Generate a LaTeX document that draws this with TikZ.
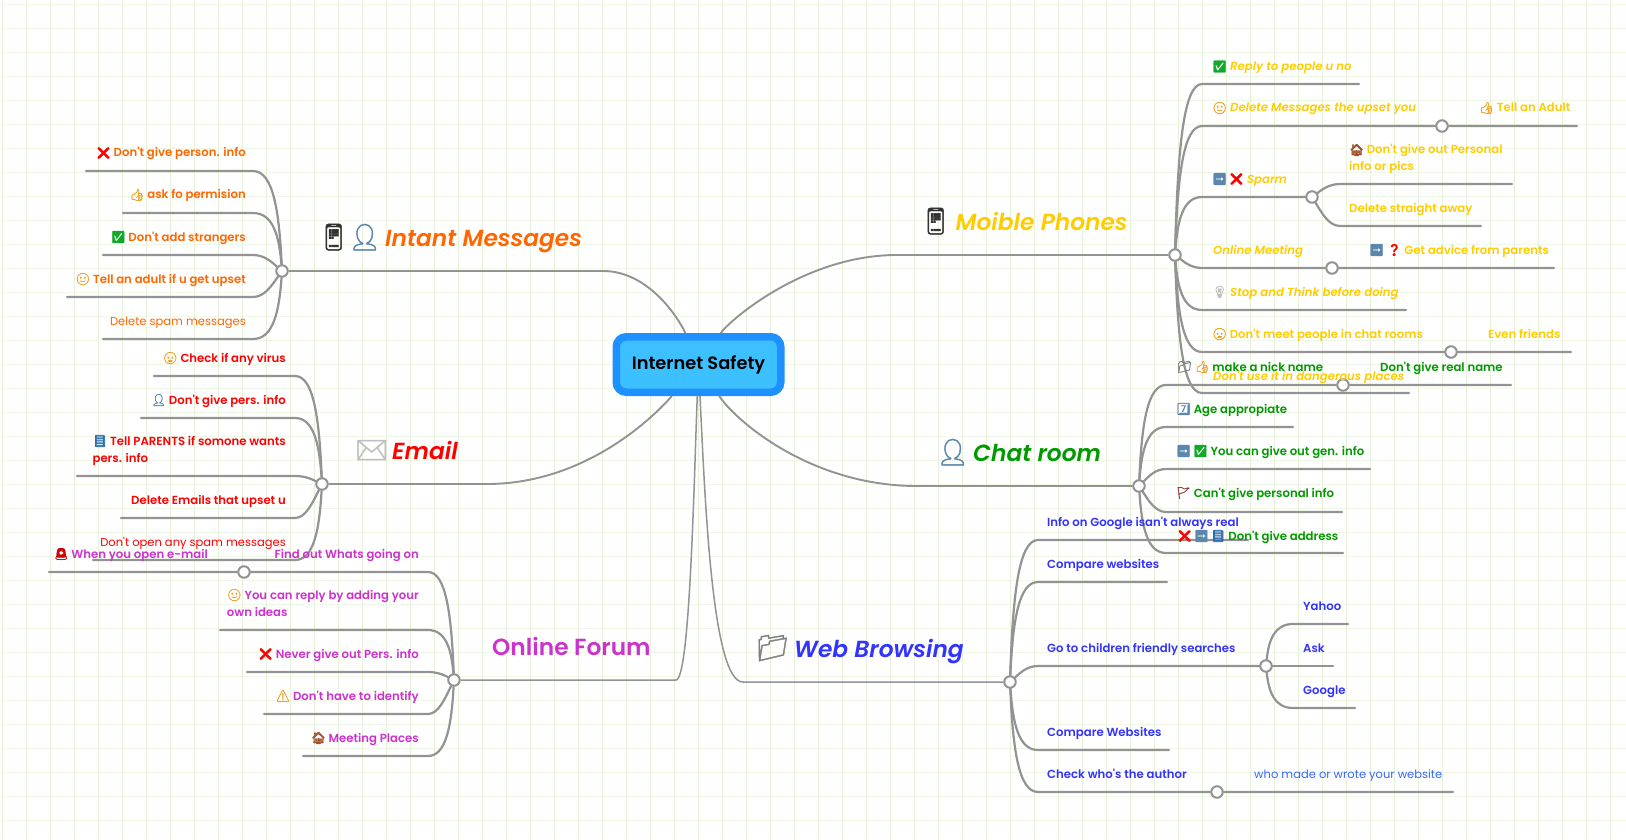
\documentclass[tikz,border=0pt]{standalone}
\usepackage{fontspec}
\usepackage{tikz}
\usetikzlibrary{calc, backgrounds}
\newfontfamily\mapfont{Poppins}[BoldFont={Poppins SemiBold},BoldItalicFont={Poppins SemiBold Italic}]
\newfontfamily\emofont{Noto Emoji}[FakeBold=1.6]
\definecolor{mobcol}{HTML}{FFCC00}
\definecolor{imcol}{HTML}{FF6600}
\definecolor{mailcol}{HTML}{FF0000}
\definecolor{chatcol}{HTML}{009900}
\definecolor{webcol}{HTML}{3333FF}
\definecolor{forumcol}{HTML}{CC33CC}
\definecolor{whocol}{HTML}{3366FF}
\definecolor{linecol}{HTML}{939393}
\definecolor{steel}{HTML}{5B86AE}
\definecolor{okgreen}{HTML}{12A82A}
\definecolor{facecol}{HTML}{F0A020}
\definecolor{bookcol}{HTML}{2A6CB0}
\definecolor{homecol}{HTML}{A0522D}
\definecolor{flagcol}{HTML}{8B3A3A}
\definecolor{boxcol}{HTML}{1E90FF}
\definecolor{boxfill}{HTML}{3CC0FF}
\definecolor{gridh}{HTML}{EFF7E6}
\definecolor{gridv}{HTML}{E6F0DA}
\newcommand{\ico}[2]{{\emofont\textcolor{#1}{#2}}}
\newcommand{\bigico}[2]{{\emofont\fontsize{26}{26}\selectfont\textcolor{#1}{#2}}}
\newcommand{\icx}{\ico{red}{❌}}
\newcommand{\icok}{\ico{okgreen}{✅}}
\newcommand{\icup}{\ico{facecol}{👍}}
\newcommand{\icsm}{\ico{facecol}{🙂}}
\newcommand{\icsad}{\ico{facecol}{😦}}
\newcommand{\icgo}{\ico{steel}{➡}}
\newcommand{\ichome}{\ico{homecol}{🏠}}
\newcommand{\icbook}{\ico{bookcol}{📘}}
\newcommand{\icman}{\ico{steel}{👤}}
\newcommand{\icdir}{\ico{gray}{📁}}

\begin{document}
\begin{tikzpicture}[
      x=1pt,
      y=-1pt,
      every node/.style={inner sep=0pt},
      leaf/.style={font=\mapfont\fontsize{11.7}{17}\selectfont\bfseries, align=left},
      leafit/.style={font=\mapfont\fontsize{11.7}{17}\selectfont\bfseries\itshape},
      plain/.style={font=\mapfont\fontsize{11.5}{17}\selectfont},
      topic/.style={anchor=base west, font=\mapfont\fontsize{23.3}{26}\selectfont\bfseries\itshape},
      knob/.style={circle, draw=linecol, fill=white, line width=2pt, minimum size=11.5pt},
      link/.style={draw=linecol, line width=2.2pt, line cap=round},
      trunk/.style={draw=linecol, line width=1.9pt},
      bendlink/.style={to path={let \p1=(\tikztostart), \p2=(\tikztotarget) in
         .. controls ({\x1+.1*(\x2-\x1)},{\y1+.6*(\y2-\y1)}) and ({\x1+.3*(\x2-\x1)},\y2) .. (\p2)}},
      bendnear/.style={to path={let \p1=(\tikztostart), \p2=(\tikztotarget) in
         .. controls ({\x1+.35*(\x2-\x1)},{\y1+.55*(\y2-\y1)}) and ({\x1+.6*(\x2-\x1)},\y2) .. (\p2)}}
   ]

      \useasboundingbox (0,0) rectangle (1626,840);

      \node[draw=boxcol, rounded corners=10pt, line width=7.5pt, fill=boxfill,
         minimum width=164.5pt, minimum height=55.5pt,
         font=\mapfont\fontsize{17.8}{20}\selectfont\bfseries] (safety) at (698.5,364.5) {Internet Safety};

      \node[knob] (hubmob) at (1175,255) {};
      \node[knob] (hubim) at (282,271) {};
      \node[knob] (hubmail) at (322,484) {};
      \node[knob] (hubchat) at (1139,486) {};
      \node[knob] (hubweb) at (1010,682) {};
      \node[knob] (hubforum) at (454,680) {};
      \node[knob] (knobadult) at (1442,126) {};
      \node[knob] (knobsparm) at (1312,197) {};
      \node[knob] (knobmeet) at (1332,268) {};
      \node[knob] (knobfriends) at (1451,352) {};
      \node[knob] (knobnick) at (1343,385) {};
      \node[knob] (knobsearch) at (1266,666) {};
      \node[knob] (knobauthor) at (1217,792) {};
      \node[knob] (knobopen) at (244,572) {};

      \node[topic, text=mobcol] (tmob) at (919,230) {\bigico{black!80}{📱}\hspace{3.4pt}Moible Phones};
      \node[topic, text=imcol] (tim) at (317,246) {\bigico{black!80}{📱}\hspace{-2pt}\bigico{steel}{👤}\hspace{4pt}Intant Messages};
      \node[topic, text=mailcol] (tmail) at (355,459) {\bigico{black!25}{✉}\hspace{4pt}Email};
      \node[topic, text=chatcol] (tchat) at (936,461) {\bigico{steel}{👤}\hspace{4pt}Chat room};
      \node[topic, text=webcol] (tweb) at (756,657) {\bigico{gray}{📁}\hspace{5pt}Web Browsing};
      \node[topic, text=forumcol, font=\mapfont\fontsize{23.3}{26}\selectfont\bfseries] (tforum) at (492,655) {Online Forum};

      \coordinate (mob1) at (1202,84);
      \coordinate (mob1e) at (1359,84);
      \coordinate (mob2) at (1202,126);
      \coordinate (mob2e) at (1577,126);
      \coordinate (mob3) at (1202,197);
      \coordinate (spam1) at (1340,184);
      \coordinate (spam1e) at (1512,184);
      \coordinate (spam2) at (1340,226);
      \coordinate (spam2e) at (1481,226);
      \coordinate (mob4) at (1202,268);
      \coordinate (mob4e) at (1554,268);
      \coordinate (mob5) at (1202,310);
      \coordinate (mob5e) at (1406,310);
      \coordinate (mob6) at (1202,352);
      \coordinate (mob6e) at (1571,352);
      \coordinate (mob7) at (1202,393);
      \coordinate (mob7e) at (1409,393);

      \coordinate (chat1) at (1166,385);
      \coordinate (chat1e) at (1511,385);
      \coordinate (chat2) at (1166,427);
      \coordinate (chat2e) at (1293,427);
      \coordinate (chat3) at (1166,469);
      \coordinate (chat3e) at (1370,469);
      \coordinate (chat4) at (1166,512);
      \coordinate (chat4e) at (1342,512);
      \coordinate (chat5) at (1166,553);
      \coordinate (chat5e) at (1343,553);

      \coordinate (web1) at (1038,540);
      \coordinate (web1e) at (1248,540);
      \coordinate (web2) at (1038,582);
      \coordinate (web2e) at (1167,582);
      \coordinate (web3) at (1038,666);
      \coordinate (web4) at (1038,750);
      \coordinate (web4e) at (1169,750);
      \coordinate (web5) at (1038,792);
      \coordinate (web5e) at (1453,792);
      \coordinate (find1) at (1293,624);
      \coordinate (find1e) at (1348,624);
      \coordinate (find2) at (1293,666);
      \coordinate (find2e) at (1333,666);
      \coordinate (find3) at (1293,708);
      \coordinate (find3e) at (1355,708);

      \coordinate (im1) at (253,171);
      \coordinate (im1e) at (86,171);
      \coordinate (im2) at (253,213);
      \coordinate (im2e) at (123,213);
      \coordinate (im3) at (253,255);
      \coordinate (im3e) at (103,255);
      \coordinate (im4) at (253,297);
      \coordinate (im4e) at (67,297);
      \coordinate (im5) at (253,339);
      \coordinate (im5e) at (103,339);

      \coordinate (mail1) at (295,376);
      \coordinate (mail1e) at (154,376);
      \coordinate (mail2) at (295,418);
      \coordinate (mail2e) at (141,418);
      \coordinate (mail3) at (295,476);
      \coordinate (mail3e) at (77,476);
      \coordinate (mail4) at (295,518);
      \coordinate (mail4e) at (121,518);
      \coordinate (mail5) at (295,560);
      \coordinate (mail5e) at (93,560);

      \coordinate (forum1) at (428,572);
      \coordinate (forum1e) at (49,572);
      \coordinate (forum2) at (428,630);
      \coordinate (forum2e) at (220,630);
      \coordinate (forum3) at (428,672);
      \coordinate (forum3e) at (247,672);
      \coordinate (forum4) at (428,714);
      \coordinate (forum4e) at (264,714);
      \coordinate (forum5) at (428,756);
      \coordinate (forum5e) at (303,756);

      \begin{scope}[on background layer]
         \fill[white] (0,0) rectangle (1626,840);
         \draw[line width=1.2pt, draw=gridh, y=1pt, xstep=5000, ystep=24, shift={(0,-4.5)}] (1,-835.5) grid (1626,4.5);
         \draw[line width=1.2pt, draw=gridv, xstep=24, ystep=5000, shift={(2.5,0)}] (-2.5,1) grid (1623.5,840);

         \draw[trunk] (hubim) -- (603,271) .. controls (652,271) and (682,325) .. (safety);
         \draw[trunk] (hubmail) -- (487,484) .. controls (590,484) and (660,410) .. (safety);
         \draw[trunk] (hubmob) -- (897,255) .. controls (805,255) and (730,320) .. (safety);
         \draw[trunk] (hubchat) -- (917,486) .. controls (810,486) and (735,420) .. (safety);
         \draw[trunk, line width=1.5pt] (hubweb) -- (743,682) .. controls (712,682) and (705,500) .. (safety);
         \draw[trunk, line width=1.5pt] (hubforum) -- (676,680) .. controls (690,680) and (694,480) .. (safety);

         \draw[link] (hubmob) to[bendlink] (mob1) -- (mob1e);
         \draw[link] (hubmob) to[bendlink] (mob2) -- (knobadult) -- (mob2e);
         \draw[link] (hubmob) to[bendlink] (mob3) -- (knobsparm);
         \draw[link] (knobsparm) to[bendnear] (spam1) -- (spam1e);
         \draw[link] (knobsparm) to[bendnear] (spam2) -- (spam2e);
         \draw[link] (hubmob) to[bendnear] (mob4) -- (knobmeet) -- (mob4e);
         \draw[link] (hubmob) to[bendlink] (mob5) -- (mob5e);
         \draw[link] (hubmob) to[bendlink] (mob6) -- (knobfriends) -- (mob6e);
         \draw[link] (hubmob) to[bendlink] (mob7) -- (mob7e);

         \draw[link] (hubchat) to[bendlink] (chat1) -- (knobnick) -- (chat1e);
         \draw[link] (hubchat) to[bendlink] (chat2) -- (chat2e);
         \draw[link] (hubchat) to[bendnear] (chat3) -- (chat3e);
         \draw[link] (hubchat) to[bendnear] (chat4) -- (chat4e);
         \draw[link] (hubchat) to[bendlink] (chat5) -- (chat5e);

         \draw[link] (hubweb) to[bendlink] (web1) -- (web1e);
         \draw[link] (hubweb) to[bendlink] (web2) -- (web2e);
         \draw[link] (hubweb) to[bendnear] (web3) -- (knobsearch);
         \draw[link] (knobsearch) to[bendlink] (find1) -- (find1e);
         \draw[link] (knobsearch) -- (find2) -- (find2e);
         \draw[link] (knobsearch) to[bendlink] (find3) -- (find3e);
         \draw[link] (hubweb) to[bendlink] (web4) -- (web4e);
         \draw[link] (hubweb) to[bendlink] (web5) -- (knobauthor) -- (web5e);

         \draw[link] (hubim) to[bendlink] (im1) -- (im1e);
         \draw[link] (hubim) to[bendlink] (im2) -- (im2e);
         \draw[link] (hubim) to[bendnear] (im3) -- (im3e);
         \draw[link] (hubim) to[bendnear] (im4) -- (im4e);
         \draw[link] (hubim) to[bendlink] (im5) -- (im5e);

         \draw[link] (hubmail) to[bendlink] (mail1) -- (mail1e);
         \draw[link] (hubmail) to[bendlink] (mail2) -- (mail2e);
         \draw[link] (hubmail) to[bendnear] (mail3) -- (mail3e);
         \draw[link] (hubmail) to[bendnear] (mail4) -- (mail4e);
         \draw[link] (hubmail) to[bendlink] (mail5) -- (mail5e);

         \draw[link] (hubforum) to[bendlink] (forum1) -- (knobopen) -- (forum1e);
         \draw[link] (hubforum) to[bendlink] (forum2) -- (forum2e);
         \draw[link] (hubforum) to[bendnear] (forum3) -- (forum3e);
         \draw[link] (hubforum) to[bendnear] (forum4) -- (forum4e);
         \draw[link] (hubforum) to[bendlink] (forum5) -- (forum5e);
      \end{scope}

      \node[leafit, anchor=base west, text=mobcol] (treply) at (1212,70.5) {\icok\ Reply to people u no};
      \node[leafit, anchor=base west, text=mobcol] (tdelete) at (1212,112) {\icsm\ Delete Messages the upset you};
      \node[leaf, anchor=base west, text=mobcol] (tadult) at (1479,112) {\icup\ Tell an Adult};
      \node[leafit, anchor=base west, text=mobcol] (tsparm) at (1212,183) {\icgo\,\icx\ Sparm};
      \node[leaf, anchor=base west, text=mobcol] (tpics) at (1349,171) {\ichome\ Don't give out Personal\\info or pics};
      \node[leaf, anchor=base west, text=mobcol] (tstraight) at (1349,212) {Delete straight away};
      \node[leafit, anchor=base west, text=mobcol] (tonline) at (1213,254) {Online Meeting};
      \node[leaf, anchor=base west, text=mobcol] (tadvice) at (1369,254) {\icgo\ \ico{red}{❓} Get advice from parents};
      \node[leafit, anchor=base west, text=mobcol] (tstop) at (1212,296) {\ico{black!25}{💡}\ Stop and Think before doing};
      \node[leaf, anchor=base west, text=mobcol] (trooms) at (1212,338) {\icsad\ Don't meet people in chat rooms};
      \node[leaf, anchor=base west, text=mobcol] (tfriends) at (1488,338) {Even friends};
      \node[leafit, anchor=base west, text=mobcol] (tplaces) at (1213,380) {Don't use it in dangerous places};

      \node[leaf, anchor=base west, text=chatcol] (tnick) at (1177,371) {\icdir\ \icup\ make a nick name};
      \node[leaf, anchor=base west, text=chatcol] (treal) at (1380,371) {Don't give real name};
      \node[leaf, anchor=base west, text=chatcol] (tage) at (1176,413) {\ico{steel}{7⃣}\ Age appropiate};
      \node[leaf, anchor=base west, text=chatcol] (tgen) at (1176,455) {\icgo\,\icok\ You can give out gen. info};
      \node[leaf, anchor=base west, text=chatcol] (tpers) at (1176,497) {\ico{flagcol}{🚩}\ Can't give personal info};
      \node[leaf, anchor=base west, text=chatcol] (taddr) at (1177,540) {\icx\,\icgo\,\icbook\ Don't give address};

      \node[leaf, anchor=base west, text=webcol] (tinfo) at (1047,526) {Info on Google isan't always real};
      \node[leaf, anchor=base west, text=webcol] (tcomp) at (1047,568) {Compare websites};
      \node[leaf, anchor=base west, text=webcol] (tsearch) at (1047,652) {Go to children friendly searches};
      \node[leaf, anchor=base west, text=webcol] (tyahoo) at (1303,610) {Yahoo};
      \node[leaf, anchor=base west, text=webcol] (task) at (1303,652) {Ask};
      \node[leaf, anchor=base west, text=webcol] (tgoogle) at (1303,694) {Google};
      \node[leaf, anchor=base west, text=webcol] (tcompb) at (1047,736) {Compare Websites};
      \node[leaf, anchor=base west, text=webcol] (tauthor) at (1047,778) {Check who's the author};
      \node[plain, anchor=base west, text=whocol] (twho) at (1254,778) {who made or wrote your website};

      \node[leaf, anchor=base east, text=imcol] (tim1) at (246,157) {\icx\ Don't give person. info};
      \node[leaf, anchor=base east, text=imcol] (tim2) at (246,199) {\icup\ ask fo permision};
      \node[leaf, anchor=base east, text=imcol] (tim3) at (246,241) {\icok\ Don't add strangers};
      \node[leaf, anchor=base east, text=imcol] (tim4) at (246,283) {\icsm\ Tell an adult if u get upset};
      \node[plain, anchor=base east, text=imcol] (tim5) at (246,325) {Delete spam messages};

      \node[leaf, anchor=base east, text=mailcol] (tmail1) at (286,362) {\icsad\ Check if any virus};
      \node[leaf, anchor=base east, text=mailcol] (tmail2) at (286,404) {\icman\ Don't give pers. info};
      \node[leaf, anchor=base east, text=mailcol] (tmail3) at (286,462) {\icbook\ Tell PARENTS if somone wants\\pers. info};
      \node[leaf, anchor=base east, text=mailcol] (tmail4) at (286,504) {Delete Emails that upset u};
      \node[plain, anchor=base east, text=mailcol] (tmail5) at (286,546) {Don't open any spam messages};

      \node[leaf, anchor=base east, text=forumcol] (tfind) at (419,558) {Find out Whats going on};
      \node[leaf, anchor=base east, text=forumcol] (twhen) at (208,558) {\ico{red!80!black}{🚨}\ When you open e-mail};
      \node[leaf, anchor=base east, text=forumcol] (tideas) at (419,616) {\icsm\ You can reply by adding your\\own ideas};
      \node[leaf, anchor=base east, text=forumcol] (tnever) at (419,658) {\icx\ Never give out Pers. info};
      \node[leaf, anchor=base east, text=forumcol] (twarn) at (419,700) {\ico{facecol}{⚠}\ Don't have to identify};
      \node[leaf, anchor=base east, text=forumcol] (tmeet) at (419,742) {\ichome\ Meeting Places};
   \end{tikzpicture}
\end{document}
